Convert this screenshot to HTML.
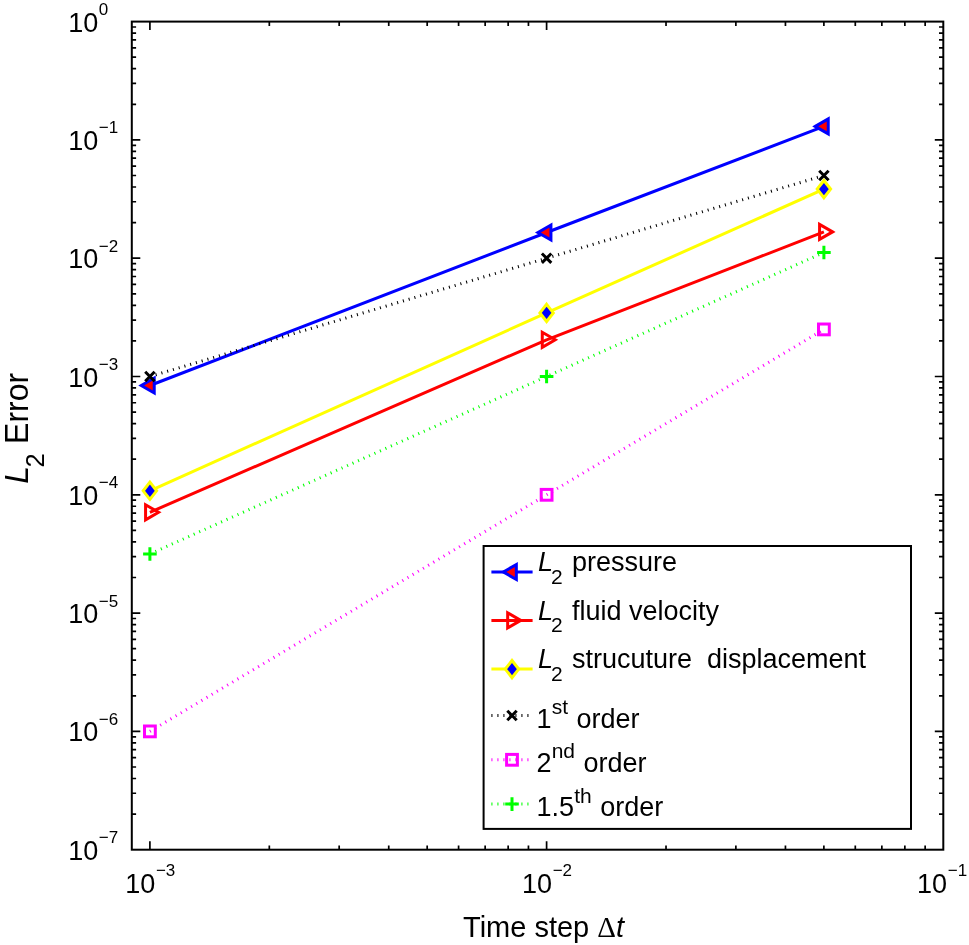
<!DOCTYPE html>
<html lang="en"><head><meta charset="utf-8"><title>L2 Error vs Time step</title>
<style>html,body{margin:0;padding:0;background:#fff}svg{display:block}text{font-family:"Liberation Sans", sans-serif;fill:#000}</style>
</head><body>
<svg width="969" height="945" viewBox="0 0 969 945">
<rect x="0" y="0" width="969" height="945" fill="#fff"/>
<path d="M131.80 104.29h4.30M943.30 104.29h-4.30M131.80 83.46h4.30M943.30 83.46h-4.30M131.80 68.68h4.30M943.30 68.68h-4.30M131.80 57.21h4.30M943.30 57.21h-4.30M131.80 47.84h4.30M943.30 47.84h-4.30M131.80 39.92h4.30M943.30 39.92h-4.30M131.80 33.06h4.30M943.30 33.06h-4.30M131.80 27.01h4.30M943.30 27.01h-4.30M131.80 139.90h8.50M943.30 139.90h-8.50M131.80 222.59h4.30M943.30 222.59h-4.30M131.80 201.76h4.30M943.30 201.76h-4.30M131.80 186.98h4.30M943.30 186.98h-4.30M131.80 175.51h4.30M943.30 175.51h-4.30M131.80 166.14h4.30M943.30 166.14h-4.30M131.80 158.22h4.30M943.30 158.22h-4.30M131.80 151.36h4.30M943.30 151.36h-4.30M131.80 145.31h4.30M943.30 145.31h-4.30M131.80 258.20h8.50M943.30 258.20h-8.50M131.80 340.89h4.30M943.30 340.89h-4.30M131.80 320.06h4.30M943.30 320.06h-4.30M131.80 305.28h4.30M943.30 305.28h-4.30M131.80 293.81h4.30M943.30 293.81h-4.30M131.80 284.44h4.30M943.30 284.44h-4.30M131.80 276.52h4.30M943.30 276.52h-4.30M131.80 269.66h4.30M943.30 269.66h-4.30M131.80 263.61h4.30M943.30 263.61h-4.30M131.80 376.50h8.50M943.30 376.50h-8.50M131.80 459.19h4.30M943.30 459.19h-4.30M131.80 438.36h4.30M943.30 438.36h-4.30M131.80 423.58h4.30M943.30 423.58h-4.30M131.80 412.11h4.30M943.30 412.11h-4.30M131.80 402.74h4.30M943.30 402.74h-4.30M131.80 394.82h4.30M943.30 394.82h-4.30M131.80 387.96h4.30M943.30 387.96h-4.30M131.80 381.91h4.30M943.30 381.91h-4.30M131.80 494.80h8.50M943.30 494.80h-8.50M131.80 577.49h4.30M943.30 577.49h-4.30M131.80 556.66h4.30M943.30 556.66h-4.30M131.80 541.88h4.30M943.30 541.88h-4.30M131.80 530.41h4.30M943.30 530.41h-4.30M131.80 521.04h4.30M943.30 521.04h-4.30M131.80 513.12h4.30M943.30 513.12h-4.30M131.80 506.26h4.30M943.30 506.26h-4.30M131.80 500.21h4.30M943.30 500.21h-4.30M131.80 613.10h8.50M943.30 613.10h-8.50M131.80 695.79h4.30M943.30 695.79h-4.30M131.80 674.96h4.30M943.30 674.96h-4.30M131.80 660.18h4.30M943.30 660.18h-4.30M131.80 648.71h4.30M943.30 648.71h-4.30M131.80 639.34h4.30M943.30 639.34h-4.30M131.80 631.42h4.30M943.30 631.42h-4.30M131.80 624.56h4.30M943.30 624.56h-4.30M131.80 618.51h4.30M943.30 618.51h-4.30M131.80 731.40h8.50M943.30 731.40h-8.50M131.80 814.09h4.30M943.30 814.09h-4.30M131.80 793.26h4.30M943.30 793.26h-4.30M131.80 778.48h4.30M943.30 778.48h-4.30M131.80 767.01h4.30M943.30 767.01h-4.30M131.80 757.64h4.30M943.30 757.64h-4.30M131.80 749.72h4.30M943.30 749.72h-4.30M131.80 742.86h4.30M943.30 742.86h-4.30M131.80 736.81h4.30M943.30 736.81h-4.30M149.90 849.70v-8.50M149.90 21.60v8.50M269.32 849.70v-4.30M269.32 21.60v4.30M339.17 849.70v-4.30M339.17 21.60v4.30M388.74 849.70v-4.30M388.74 21.60v4.30M427.18 849.70v-4.30M427.18 21.60v4.30M458.59 849.70v-4.30M458.59 21.60v4.30M485.15 849.70v-4.30M485.15 21.60v4.30M508.16 849.70v-4.30M508.16 21.60v4.30M528.45 849.70v-4.30M528.45 21.60v4.30M546.60 849.70v-8.50M546.60 21.60v8.50M666.02 849.70v-4.30M666.02 21.60v4.30M735.87 849.70v-4.30M735.87 21.60v4.30M785.44 849.70v-4.30M785.44 21.60v4.30M823.88 849.70v-4.30M823.88 21.60v4.30M855.29 849.70v-4.30M855.29 21.60v4.30M881.85 849.70v-4.30M881.85 21.60v4.30M904.86 849.70v-4.30M904.86 21.60v4.30M925.15 849.70v-4.30M925.15 21.60v4.30" fill="none" stroke="#000" stroke-width="1.70"/>
<path d="M149.90 385.50 L546.60 232.50 L823.90 126.40" fill="none" stroke="#0000ff" stroke-width="3.00" stroke-linejoin="round"/>
<path d="M141.24 385.50L154.23 378.00L154.23 393.00Z" fill="#ff0000" stroke="#0000ff" stroke-width="3.00" stroke-linejoin="miter" stroke-miterlimit="10"/>
<path d="M537.94 232.50L550.93 225.00L550.93 240.00Z" fill="#ff0000" stroke="#0000ff" stroke-width="3.00" stroke-linejoin="miter" stroke-miterlimit="10"/>
<path d="M815.24 126.40L828.23 118.90L828.23 133.90Z" fill="#ff0000" stroke="#0000ff" stroke-width="3.00" stroke-linejoin="miter" stroke-miterlimit="10"/>
<path d="M149.90 512.30 L546.60 339.80 L823.90 231.90" fill="none" stroke="#ff0000" stroke-width="3.00" stroke-linejoin="round"/>
<path d="M158.56 512.30L145.57 504.80L145.57 519.80Z" fill="none" stroke="#ff0000" stroke-width="3.00" stroke-linejoin="miter" stroke-miterlimit="10"/>
<path d="M555.26 339.80L542.27 332.30L542.27 347.30Z" fill="none" stroke="#ff0000" stroke-width="3.00" stroke-linejoin="miter" stroke-miterlimit="10"/>
<path d="M832.56 231.90L819.57 224.40L819.57 239.40Z" fill="none" stroke="#ff0000" stroke-width="3.00" stroke-linejoin="miter" stroke-miterlimit="10"/>
<path d="M149.90 490.80 L546.60 312.90 L823.90 189.10" fill="none" stroke="#ffff00" stroke-width="3.00" stroke-linejoin="round"/>
<path d="M149.90 482.20L156.60 490.80L149.90 499.40L143.20 490.80Z" fill="#0000ff" stroke="#ffff00" stroke-width="3.00" stroke-linejoin="miter" stroke-miterlimit="10"/>
<path d="M546.60 304.30L553.30 312.90L546.60 321.50L539.90 312.90Z" fill="#0000ff" stroke="#ffff00" stroke-width="3.00" stroke-linejoin="miter" stroke-miterlimit="10"/>
<path d="M823.90 180.50L830.60 189.10L823.90 197.70L817.20 189.10Z" fill="#0000ff" stroke="#ffff00" stroke-width="3.00" stroke-linejoin="miter" stroke-miterlimit="10"/>
<path d="M149.90 376.50 L546.60 258.20 L823.90 175.51" fill="none" stroke="#000000" stroke-width="3.00" stroke-linejoin="round" stroke-dasharray="1.05 4.95"/>
<path d="M145.20 371.80L154.60 381.20M145.20 381.20L154.60 371.80" fill="none" stroke="#000000" stroke-width="3.00"/>
<path d="M541.90 253.50L551.30 262.90M541.90 262.90L551.30 253.50" fill="none" stroke="#000000" stroke-width="3.00"/>
<path d="M819.20 170.81L828.60 180.21M819.20 180.21L828.60 170.81" fill="none" stroke="#000000" stroke-width="3.00"/>
<path d="M149.90 731.40 L546.60 494.80 L823.90 329.42" fill="none" stroke="#ff00ff" stroke-width="3.00" stroke-linejoin="round" stroke-dasharray="1.05 4.95"/>
<rect x="144.50" y="726.00" width="10.80" height="10.80" fill="none" stroke="#ff00ff" stroke-width="3.00"/>
<rect x="541.20" y="489.40" width="10.80" height="10.80" fill="none" stroke="#ff00ff" stroke-width="3.00"/>
<rect x="818.50" y="324.02" width="10.80" height="10.80" fill="none" stroke="#ff00ff" stroke-width="3.00"/>
<path d="M149.90 553.95 L546.60 376.50 L823.90 252.47" fill="none" stroke="#00ff00" stroke-width="3.00" stroke-linejoin="round" stroke-dasharray="1.05 4.95"/>
<path d="M143.10 553.95h13.60M149.90 547.15v13.60" fill="none" stroke="#00ff00" stroke-width="3.00"/>
<path d="M539.80 376.50h13.60M546.60 369.70v13.60" fill="none" stroke="#00ff00" stroke-width="3.00"/>
<path d="M817.10 252.47h13.60M823.90 245.67v13.60" fill="none" stroke="#00ff00" stroke-width="3.00"/>
<rect x="131.80" y="21.60" width="811.50" height="828.10" fill="none" stroke="#000" stroke-width="2.00"/>
<text x="68.20" y="31.60" font-size="27" text-anchor="start">10<tspan font-size="17" dy="-16.6" dx="0.6">0</tspan></text>
<text x="68.20" y="149.90" font-size="27" text-anchor="start">10<tspan font-size="17" dy="-16.6" dx="0.6">−1</tspan></text>
<text x="68.20" y="268.20" font-size="27" text-anchor="start">10<tspan font-size="17" dy="-16.6" dx="0.6">−2</tspan></text>
<text x="68.20" y="386.50" font-size="27" text-anchor="start">10<tspan font-size="17" dy="-16.6" dx="0.6">−3</tspan></text>
<text x="68.20" y="504.80" font-size="27" text-anchor="start">10<tspan font-size="17" dy="-16.6" dx="0.6">−4</tspan></text>
<text x="68.20" y="623.10" font-size="27" text-anchor="start">10<tspan font-size="17" dy="-16.6" dx="0.6">−5</tspan></text>
<text x="68.20" y="741.40" font-size="27" text-anchor="start">10<tspan font-size="17" dy="-16.6" dx="0.6">−6</tspan></text>
<text x="68.20" y="859.70" font-size="27" text-anchor="start">10<tspan font-size="17" dy="-16.6" dx="0.6">−7</tspan></text>
<text x="125.30" y="893.40" font-size="27" text-anchor="start">10<tspan font-size="17" dy="-17" dx="0.6">−3</tspan></text>
<text x="522.00" y="893.40" font-size="27" text-anchor="start">10<tspan font-size="17" dy="-17" dx="0.6">−2</tspan></text>
<text x="917.10" y="893.40" font-size="27" text-anchor="start">10<tspan font-size="17" dy="-17" dx="0.6">−1</tspan></text>
<text x="463.0" y="936.6" font-size="29">Time step <tspan font-family="Liberation Serif, serif">Δ</tspan><tspan font-style="italic">t</tspan></text>
<text transform="translate(28.2 483.8) rotate(-90) scale(1 1.045)" font-size="32"><tspan font-style="italic">L</tspan><tspan font-size="25.5" dy="15.1" dx="-1.6">2</tspan><tspan dy="-15.1" dx="0.6"> Error</tspan></text>
<rect x="483.60" y="546.00" width="427.40" height="282.90" fill="#fff" stroke="#000" stroke-width="2.00"/>
<path d="M491.40 572.00H532.60" fill="none" stroke="#0000ff" stroke-width="3.00"/>
<path d="M503.34 572.00L516.33 564.50L516.33 579.50Z" fill="#ff0000" stroke="#0000ff" stroke-width="3.00" stroke-linejoin="miter" stroke-miterlimit="10"/>
<path d="M491.40 620.40H532.60" fill="none" stroke="#ff0000" stroke-width="3.00"/>
<path d="M520.66 620.40L507.67 612.90L507.67 627.90Z" fill="none" stroke="#ff0000" stroke-width="3.00" stroke-linejoin="miter" stroke-miterlimit="10"/>
<path d="M491.40 669.10H532.60" fill="none" stroke="#ffff00" stroke-width="3.00"/>
<path d="M512.00 660.50L518.70 669.10L512.00 677.70L505.30 669.10Z" fill="#0000ff" stroke="#ffff00" stroke-width="3.00" stroke-linejoin="miter" stroke-miterlimit="10"/>
<path d="M491.40 715.50H532.60" fill="none" stroke="#000000" stroke-width="3.00" stroke-dasharray="1.05 4.95"/>
<path d="M507.30 710.80L516.70 720.20M507.30 720.20L516.70 710.80" fill="none" stroke="#000000" stroke-width="3.00"/>
<path d="M491.40 759.80H532.60" fill="none" stroke="#ff00ff" stroke-width="3.00" stroke-dasharray="1.05 4.95"/>
<rect x="506.60" y="754.40" width="10.80" height="10.80" fill="none" stroke="#ff00ff" stroke-width="3.00"/>
<path d="M491.40 804.10H532.60" fill="none" stroke="#00ff00" stroke-width="3.00" stroke-dasharray="1.05 4.95"/>
<path d="M505.20 804.10h13.60M512.00 797.30v13.60" fill="none" stroke="#00ff00" stroke-width="3.00"/>
<text x="538.10" y="571.20" font-size="27" style="white-space:pre"><tspan font-style="italic">L</tspan><tspan font-size="21" dy="12.4" dx="-2.2">2</tspan><tspan dy="-12.4" dx="1.8"> pressure</tspan></text>
<text x="538.10" y="619.60" font-size="27" style="white-space:pre"><tspan font-style="italic">L</tspan><tspan font-size="21" dy="12.4" dx="-2.2">2</tspan><tspan dy="-12.4" dx="1.8"> fluid velocity</tspan></text>
<text x="538.10" y="668.30" font-size="27" style="white-space:pre"><tspan font-style="italic">L</tspan><tspan font-size="21" dy="12.4" dx="-2.2">2</tspan><tspan dy="-12.4" dx="1.8"> strucuture  displacement</tspan></text>
<text x="536.60" y="727.60" font-size="27">1<tspan font-size="21" dy="-13.6">st</tspan><tspan dy="13.6" dx="1"> order</tspan></text>
<text x="536.60" y="771.80" font-size="27">2<tspan font-size="21" dy="-13.6">nd</tspan><tspan dy="13.6" dx="1"> order</tspan></text>
<text x="536.60" y="816.20" font-size="27">1.5<tspan font-size="21" dy="-13.6">th</tspan><tspan dy="13.6" dx="1"> order</tspan></text>
</svg>
</body></html>
